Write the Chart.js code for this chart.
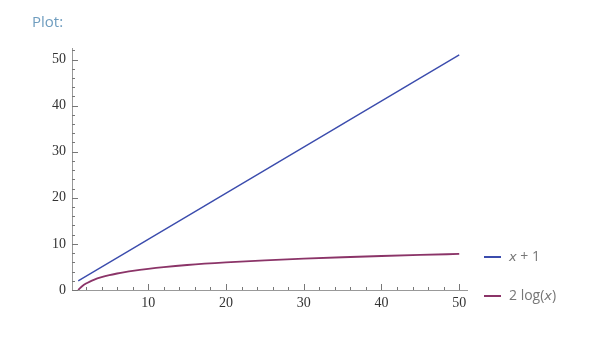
<!DOCTYPE html>
<html>
<head>
<meta charset="utf-8">
<script src="https://cdn.jsdelivr.net/npm/chart.js@4"></script>
<style>
  body { margin: 0; background: #fff; }
  #wrap { position: relative; width: 600px; height: 358px; }
  #titulo { position: absolute; left: 32px; top: 11px; font: 15px "Open Sans", sans-serif; color: #6f9dbf; }
  .leg { position: absolute; left: 484px; font: 14px "Open Sans", sans-serif; color: #777; }
  .leg span.linha { display: inline-block; width: 17px; height: 2px; vertical-align: middle; margin-right: 8px; }
  .leg i { font-family: "DejaVu Sans", sans-serif; font-size: 13px; }
</style>
</head>
<body>
<div id="wrap">
  <div id="titulo">Plot:</div>
  <canvas id="grafico" width="600" height="358"></canvas>
  <div class="leg" style="top:246px"><span class="linha" style="background:#3b4cad"></span><i>x</i> + 1</div>
  <div class="leg" style="top:285px"><span class="linha" style="background:#8b3468"></span>2 log(<i>x</i>)</div>
</div>
<script>
// valores
const xLinha = [1, 50];
const yLinha = [2, 51];
const xLog = [1, 1.2, 1.5, 2, 2.5, 3, 4, 5, 6, 7, 8, 10, 12, 15, 20, 25, 30, 35, 40, 45, 50];
const yLog = [0, 0.36, 0.81, 1.39, 1.83, 2.2, 2.77, 3.22, 3.58, 3.89, 4.16, 4.6, 4.97, 5.42, 5.99, 6.44, 6.8, 7.11, 7.38, 7.61, 7.82];
const nomes = ["x + 1", "2 log(x)"];

function pontos(xs, ys) {
    return xs.map((x, i) => ({ x: x, y: ys[i] }));
}

// ticks para dentro, como no Mathematica
const ticksInternos = {
    id: "ticksInternos",
    afterDraw(chart) {
        const ctx = chart.ctx;
        const sx = chart.scales.x, sy = chart.scales.y;
        const base = sy.getPixelForValue(0);
        const esq = sx.left;
        ctx.save();
        ctx.strokeStyle = "#777";
        ctx.lineWidth = 1;
        ctx.beginPath();
        for (let v = 2; v <= sx.max; v += 2) {
            const px = Math.round(sx.getPixelForValue(v)) + 0.5;
            const len = v % 10 === 0 ? 6 : 3;
            ctx.moveTo(px, base);
            ctx.lineTo(px, base - len);
        }
        for (let v = 0; v <= sy.max; v += 2) {
            const py = Math.round(sy.getPixelForValue(v)) + 0.5;
            const len = v % 10 === 0 ? 6 : 3;
            ctx.moveTo(esq, py);
            ctx.lineTo(esq + len, py);
        }
        ctx.stroke();
        ctx.restore();
    }
};

const fonteEixo = { family: "'Liberation Serif', serif", size: 14 };

new Chart(document.getElementById("grafico"), {
    type: "scatter",
    data: {
        datasets: [
            {
                label: nomes[0],
                data: pontos(xLinha, yLinha),
                showLine: true,
                borderColor: "#3b4cad",
                borderWidth: 1.4,
                pointRadius: 0
            },
            {
                label: nomes[1],
                data: pontos(xLog, yLog),
                showLine: true,
                cubicInterpolationMode: "monotone",
                borderColor: "#8b3468",
                borderWidth: 1.8,
                pointRadius: 0
            }
        ]
    },
    options: {
        responsive: false,
        animation: false,
        layout: { padding: { top: 48, right: 133, left: 0, bottom: 0 } },
        plugins: { legend: { display: false }, tooltip: { enabled: false } },
        scales: {
            x: {
                type: "linear",
                min: 0.2,
                max: 51,
                afterFit(s) { s.height = 68; },
                grid: { display: false, drawTicks: false },
                border: { color: "#999", width: 1 },
                ticks: { stepSize: 10, includeBounds: false, padding: 5, color: "#333", font: fonteEixo, maxRotation: 0 }
            },
            y: {
                type: "linear",
                min: 0,
                max: 52.5,
                afterFit(s) { s.width = 72; },
                grid: { display: false, drawTicks: false },
                border: { color: "#999", width: 1 },
                ticks: { stepSize: 10, includeBounds: false, padding: 6, color: "#333", font: fonteEixo }
            }
        }
    },
    plugins: [ticksInternos]
});
</script>
</body>
</html>
